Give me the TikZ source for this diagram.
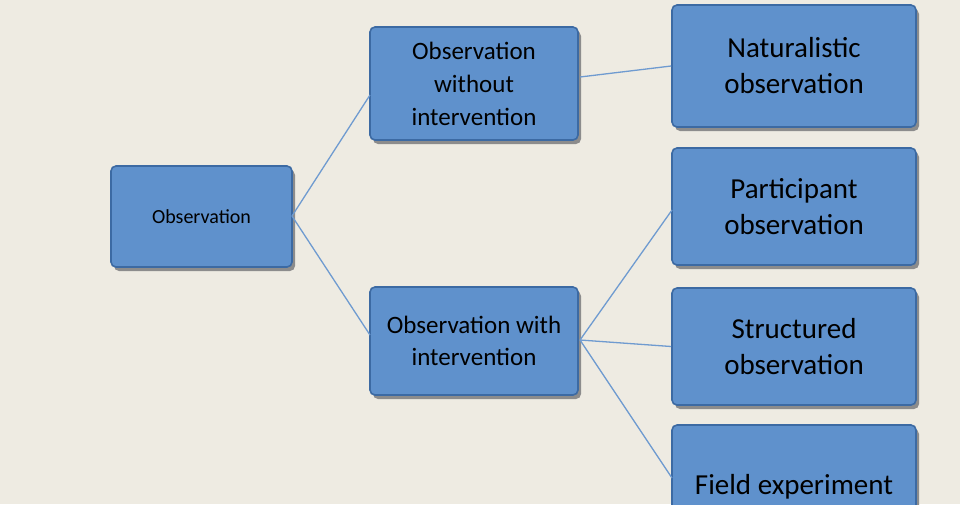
\documentclass[tikz,border=0pt]{standalone}
\usepackage{fontspec}
\setmainfont{Carlito}
\definecolor{bg}{HTML}{EEEBE2}
\definecolor{boxfill}{HTML}{5F91CC}
\definecolor{boxdraw}{HTML}{3C6AA3}
\definecolor{link}{HTML}{6F9BD0}
\begin{document}
\begin{tikzpicture}[x=1pt,y=-1pt,
  bx/.style={draw=boxdraw,line width=1.6pt,fill=boxfill,rounded corners=5pt,
    align=center,inner sep=0pt,text=black},
  ln/.style={draw=link,line width=1.3pt}]
\fill[bg] (0,0) rectangle (960,504);
\clip (0,0) rectangle (960,504);
\foreach \a/\b/\c/\d in {111/166/292/267, 370/27/578/140, 370/287/578/395, 672/5/916/127, 672/148/916/265, 672/288/916/405, 672/425/916/543}
  \fill[black!45,rounded corners=5pt] (\a+3,\b+4) rectangle (\c+3,\d+4);
\node[bx,minimum width=181pt,minimum height=101pt,font=\fontsize{20}{22}\selectfont] (o) at (201.5,216.5) {Observation};
\node[bx,minimum width=208pt,minimum height=113pt,font=\fontsize{25}{33}\selectfont] (wo) at (474,83.5) {Observation\\without\\intervention};
\node[bx,minimum width=208pt,minimum height=108pt,font=\fontsize{25}{32}\selectfont] (wi) at (474,341) {Observation with\\intervention};
\node[bx,minimum width=244pt,minimum height=122pt,font=\fontsize{29}{36}\selectfont] (n) at (794,66) {Naturalistic\\observation};
\node[bx,minimum width=244pt,minimum height=117pt,font=\fontsize{29}{36}\selectfont] (p) at (794,206.5) {Participant\\observation};
\node[bx,minimum width=244pt,minimum height=117pt,font=\fontsize{29}{36}\selectfont] (s) at (794,346.5) {Structured\\observation};
\node[bx,minimum width=244pt,minimum height=118pt,font=\fontsize{29}{36}\selectfont,text depth=0pt] (f) at (794,484) {\raisebox{0pt}[0pt][0pt]{}Field experiment};
\coordinate (oR) at (292,216);
\coordinate (wiR) at (580,340);
\draw[ln] (oR) -- (370,95);
\draw[ln] (oR) -- (370,335);
\draw[ln] (580,77) -- (n.west);
\draw[ln] (wiR) -- (672,210);
\draw[ln] (wiR) -- (s.west);
\draw[ln] (wiR) -- (672,478);
\end{tikzpicture}
\end{document}
